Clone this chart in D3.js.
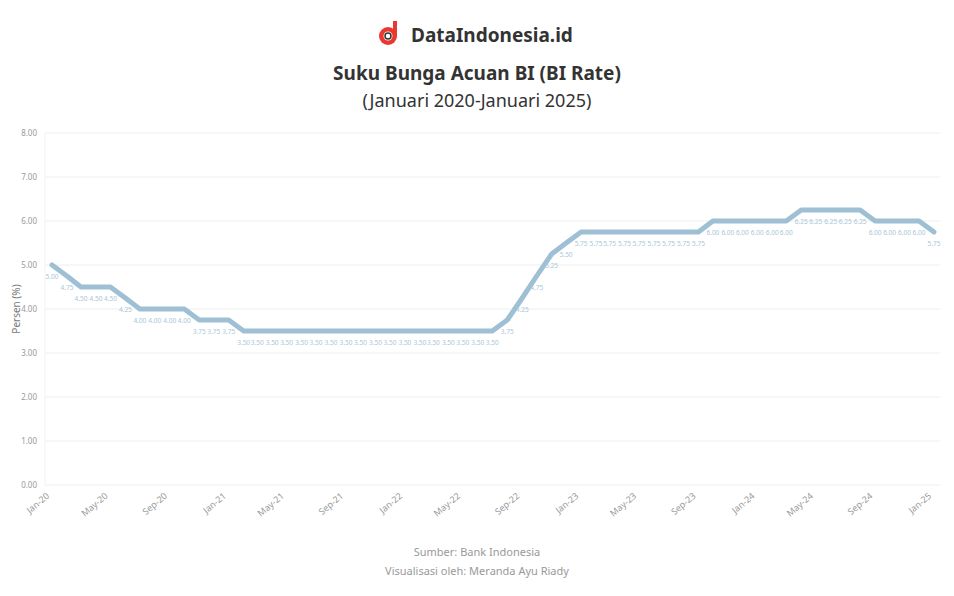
<!DOCTYPE html>
<html><head><meta charset="utf-8">
<script src="https://cdn.jsdelivr.net/npm/d3@7"></script>
<style>body{margin:0;background:#fff;font-family:"Source Sans Pro","Noto Sans",sans-serif}</style>
</head><body><svg id="c" width="954" height="596"></svg>
<script>
var months = [];
for (var i = 0; i <= 60; i++) months.push(new Date(2020, i, 1));
var rates = [
  5.00, 4.75, 4.50, 4.50, 4.50, 4.25, 4.00, 4.00, 4.00, 4.00, 3.75, 3.75,
  3.75, 3.50, 3.50, 3.50, 3.50, 3.50, 3.50, 3.50, 3.50, 3.50, 3.50, 3.50,
  3.50, 3.50, 3.50, 3.50, 3.50, 3.50, 3.50, 3.75, 4.25, 4.75, 5.25, 5.50,
  5.75, 5.75, 5.75, 5.75, 5.75, 5.75, 5.75, 5.75, 5.75, 6.00, 6.00, 6.00,
  6.00, 6.00, 6.00, 6.25, 6.25, 6.25, 6.25, 6.25, 6.00, 6.00, 6.00, 6.00,
  5.75
];
var yTicks = [0, 1, 2, 3, 4, 5, 6, 7, 8];

var svg = d3.select('#c');
var fmtMonth = d3.timeFormat('%b-%y');

// header
var logo = svg.append('g').attr('transform', 'translate(388,36)');
logo.append('circle').attr('r', 9).attr('fill', '#e8382f');
logo.append('rect').attr('x', 5).attr('y', -15).attr('width', 4).attr('height', 15).attr('fill', '#e8382f');
logo.append('circle').attr('r', 4.5).attr('fill', '#fff');
logo.append('circle').attr('r', 3).attr('fill', 'none').attr('stroke', '#333').attr('stroke-width', 1.5);
svg.append('text').attr('x', 411).attr('y', 42).attr('font-size', 19).attr('font-weight', 700)
  .attr('fill', '#333').text('DataIndonesia.id');
svg.append('text').attr('x', 477).attr('y', 80).attr('text-anchor', 'middle').attr('font-size', 19)
  .attr('font-weight', 700).attr('fill', '#333').text('Suku Bunga Acuan BI (BI Rate)');
svg.append('text').attr('x', 477).attr('y', 107).attr('text-anchor', 'middle').attr('font-size', 18)
  .attr('fill', '#333').text('(Januari 2020-Januari 2025)');

var x = d3.scaleTime().domain([months[0], months[60]]).range([52, 934]);
var y = d3.scaleLinear().domain([0, 8]).range([485, 133]);

// grid
svg.append('g').selectAll('line').data(yTicks).enter().append('line')
  .attr('x1', 45).attr('x2', 940).attr('y1', y).attr('y2', y)
  .attr('stroke', '#eeeeee');
svg.append('line').attr('x1', 45).attr('x2', 45).attr('y1', 133).attr('y2', 485).attr('stroke', '#f2f2f2');
svg.append('g').selectAll('text').data(yTicks).enter().append('text')
  .attr('x', 37).attr('y', function(d) {return y(d) + 3;}).attr('text-anchor', 'end')
  .attr('font-size', 8).attr('fill', '#999').text(function(d) {return d.toFixed(2);});
svg.append('text').attr('transform', 'translate(20,309) rotate(-90)').attr('text-anchor', 'middle')
  .attr('font-size', 10).attr('fill', '#777').text('Persen (%)');

// x labels
var xTicks = months.filter(function(d, i) {return i % 4 === 0;});
svg.append('g').selectAll('text').data(xTicks).enter().append('text')
  .attr('transform', function(d) {return 'translate(' + (x(d) - 2) + ',497) rotate(-40)';})
  .attr('text-anchor', 'end').attr('font-size', 9).attr('fill', '#999').text(fmtMonth);

// line
var series = months.map(function(d, i) {return {date: d, v: rates[i]};});
svg.append('path').datum(series)
  .attr('d', d3.line().x(function(d) {return x(d.date);}).y(function(d) {return y(d.v);}))
  .attr('fill', 'none').attr('stroke', '#9fc0d4').attr('stroke-width', 5)
  .attr('stroke-linejoin', 'round').attr('stroke-linecap', 'round');
svg.append('g').selectAll('text').data(series).enter().append('text')
  .attr('x', function(d) {return x(d.date);}).attr('y', function(d) {return y(d.v) + 14;})
  .attr('text-anchor', 'middle').attr('font-size', 6.5).attr('fill', '#a9c7d9')
  .text(function(d) {return d.v.toFixed(2);});

// footer
svg.append('text').attr('x', 477).attr('y', 556).attr('text-anchor', 'middle').attr('font-size', 11)
  .attr('fill', '#999').text('Sumber: Bank Indonesia');
svg.append('text').attr('x', 477).attr('y', 575).attr('text-anchor', 'middle').attr('font-size', 11)
  .attr('fill', '#999').text('Visualisasi oleh: Meranda Ayu Riady');
</script></body></html>
